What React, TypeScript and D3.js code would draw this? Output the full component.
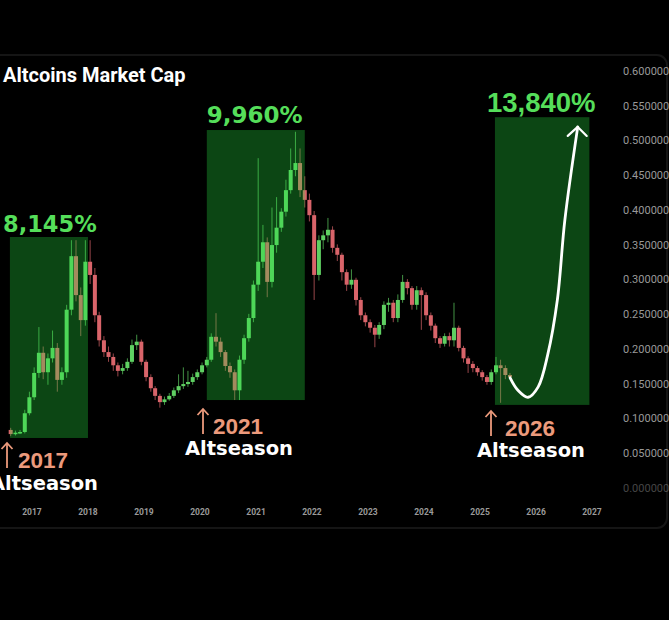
import * as d3 from "d3";
import { useEffect } from "react";

const W = 669;
const H = 620;

const BG = "#000000";
const UP = "#5fd062";
const DOWN = "#d9646a";
const BOX = "rgb(40,233,67)";
const PCT = "#55de5a";
const YEAR_TXT = "#ec9a7c";

// monthly candles, first one is Jul 2016
const FIRST_MONTH = new Date(2016, 6, 15);
const firstOpen = 0.085;
const closes = [
  0.079, 0.081, 0.082, 0.109, 0.132, 0.167, 0.196, 0.168, 0.188, 0.203,
  0.157, 0.168, 0.258, 0.335, 0.279, 0.243, 0.327, 0.308, 0.25, 0.214,
  0.197, 0.19, 0.178, 0.17, 0.174, 0.183, 0.207, 0.212, 0.183, 0.161,
  0.145, 0.134, 0.125, 0.129, 0.134, 0.142, 0.148, 0.151, 0.154, 0.161,
  0.168, 0.178, 0.186, 0.219, 0.212, 0.197, 0.177, 0.168, 0.142, 0.186,
  0.217, 0.246, 0.294, 0.327, 0.355, 0.298, 0.351, 0.376, 0.399, 0.43,
  0.459, 0.469, 0.43, 0.416, 0.394, 0.308, 0.358, 0.365, 0.373, 0.347,
  0.337, 0.312, 0.294, 0.301, 0.272, 0.25, 0.24, 0.232, 0.222, 0.236,
  0.265, 0.268, 0.246, 0.272, 0.298, 0.289, 0.265, 0.286, 0.279, 0.25,
  0.235, 0.217, 0.209, 0.22, 0.214, 0.232, 0.203, 0.188, 0.18, 0.174,
  0.168, 0.161, 0.154, 0.168, 0.178, 0.174, 0.164, 0.161,
];
const highs = [
  0.088, 0.084, 0.085, 0.114, 0.14, 0.175, 0.233, 0.205, 0.195, 0.228,
  0.21, 0.175, 0.265, 0.358, 0.358, 0.29, 0.358, 0.358, 0.318, 0.255,
  0.22, 0.205, 0.195, 0.182, 0.18, 0.188, 0.215, 0.222, 0.215, 0.186,
  0.165, 0.148, 0.137, 0.133, 0.138, 0.146, 0.165, 0.175, 0.17, 0.166,
  0.172, 0.182, 0.19, 0.224, 0.253, 0.218, 0.2, 0.182, 0.172, 0.192,
  0.222, 0.252, 0.3, 0.476, 0.38, 0.362, 0.405, 0.42, 0.404, 0.445,
  0.49, 0.514, 0.49, 0.45, 0.425, 0.4, 0.365, 0.372, 0.39, 0.378,
  0.352, 0.34, 0.316, 0.316, 0.304, 0.276, 0.254, 0.244, 0.236, 0.24,
  0.27, 0.275, 0.272, 0.28, 0.308, 0.302, 0.292, 0.292, 0.29, 0.283,
  0.254, 0.238, 0.22, 0.224, 0.225, 0.268, 0.235, 0.206, 0.191, 0.184,
  0.177, 0.171, 0.164, 0.172, 0.19, 0.186, 0.178, 0.167,
];
const lows = [
  0.076, 0.077, 0.079, 0.08, 0.106, 0.128, 0.16, 0.158, 0.15, 0.182,
  0.14, 0.15, 0.16, 0.25, 0.27, 0.22, 0.235, 0.295, 0.24, 0.205,
  0.19, 0.183, 0.17, 0.162, 0.165, 0.17, 0.18, 0.2, 0.178, 0.155,
  0.14, 0.128, 0.117, 0.121, 0.127, 0.131, 0.138, 0.144, 0.147, 0.15,
  0.157, 0.165, 0.175, 0.183, 0.205, 0.19, 0.17, 0.16, 0.128, 0.128,
  0.18, 0.212, 0.24, 0.285, 0.318, 0.276, 0.29, 0.34, 0.37, 0.392,
  0.425, 0.45, 0.42, 0.405, 0.385, 0.272, 0.3, 0.345, 0.355, 0.34,
  0.328, 0.3, 0.285, 0.288, 0.264, 0.243, 0.234, 0.225, 0.204, 0.216,
  0.23, 0.255, 0.24, 0.24, 0.268, 0.28, 0.258, 0.258, 0.229, 0.243,
  0.228, 0.21, 0.203, 0.205, 0.205, 0.205, 0.198, 0.182, 0.167, 0.168,
  0.163, 0.156, 0.15, 0.15, 0.165, 0.124, 0.158, 0.158,
];

// highlighted altseason windows
const seasons = [
  { from: new Date(2016, 7, 10), to: new Date(2018, 0, 1), top: 0.3626, bottom: 0.0734, pct: "8,145%", year: "2017" },
  { from: new Date(2020, 1, 15), to: new Date(2021, 10, 15), top: 0.5165, bottom: 0.128, pct: "9,960%", year: "2021" },
  { from: new Date(2025, 3, 8), to: new Date(2026, 11, 15), top: 0.535, bottom: 0.121, pct: "13,840%", year: "2026" },
];

// hand drawn projection
const projDates = [
  new Date(2025, 6, 16), new Date(2025, 8, 5), new Date(2025, 10, 10),
  new Date(2026, 0, 15), new Date(2026, 2, 18), new Date(2026, 4, 20),
  new Date(2026, 6, 8), new Date(2026, 8, 30),
];
const projValues = [0.16, 0.142, 0.132, 0.147, 0.193, 0.272, 0.387, 0.521];

const priceTicks = [0, 0.05, 0.1, 0.15, 0.2, 0.25, 0.3, 0.35, 0.4, 0.45, 0.5, 0.55, 0.6];
const years = [2017, 2018, 2019, 2020, 2021, 2022, 2023, 2024, 2025, 2026, 2027];

const FONT = "Roboto, 'Liberation Sans', Arial, sans-serif";
const WIDE = "'DejaVu Sans', sans-serif";
const ARIAL = "'Liberation Sans', Arial, sans-serif";

const App = () => {
  useEffect(() => {
    document.body.style.margin = "0";
    document.body.style.background = BG;
  }, []);

  const x = d3
    .scaleTime()
    .domain([new Date(2017, 0, 1), new Date(2027, 0, 1)])
    .range([32, 592]);
  const y = d3.scaleLinear().domain([0, 0.6]).range([489, 72]);

  const months = d3.timeMonth.range(FIRST_MONTH, d3.timeMonth.offset(FIRST_MONTH, closes.length));
  const candles = closes.map((c, i) => ({
    date: d3.timeDay.offset(months[i], 14),
    open: i ? closes[i - 1] : firstOpen,
    close: c,
    high: highs[i],
    low: lows[i],
  }));
  const cw = 4;

  const line = d3
    .line<number>()
    .x((d, i) => x(projDates[i]))
    .y((d) => y(d))
    .curve(d3.curveCatmullRom.alpha(0.5));
  const tipX = x(projDates[projDates.length - 1]);
  const tipY = y(projValues[projValues.length - 1]);

  const labelPos = [
    { arrowX: 7, yearX: 18, by: 468, altX: 98, altY: 490, anchor: "end" },
    { arrowX: 203, yearX: 213, by: 434, altX: 239, altY: 455, anchor: "middle" },
    { arrowX: 491, yearX: 505, by: 436, altX: 531, altY: 457, anchor: "middle" },
  ];

  return (
    <div style={{ position: "fixed", left: 0, top: 0, width: W, height: H, background: BG }}>
      <svg width={W} height={H} style={{ display: "block" }}>
        <rect width={W} height={H} fill={BG} />
        <rect x={-12} y={55} width={W + 10} height={473} rx={10} fill="none" stroke="#151515" strokeWidth={2} />

        {/* candles */}
        <g>
          {candles.map((d, i) => {
            const col = d.close >= d.open ? UP : DOWN;
            const top = y(Math.max(d.open, d.close));
            const bot = y(Math.min(d.open, d.close));
            return (
              <g key={i}>
                <line x1={x(d.date)} x2={x(d.date)} y1={y(d.high)} y2={y(d.low)} stroke={col} strokeOpacity={0.7} strokeWidth={1} />
                <rect x={x(d.date) - cw / 2} y={top} width={cw} height={Math.max(1.5, bot - top)} fill={col} />
              </g>
            );
          })}
        </g>

        {/* altseason boxes */}
        {seasons.map((s, i) => (
          <rect
            key={i}
            x={x(s.from)}
            y={y(s.top)}
            width={x(s.to) - x(s.from)}
            height={y(s.bottom) - y(s.top)}
            fill={BOX}
            fillOpacity={0.3}
          />
        ))}

        {/* projection */}
        <path d={line(projValues) || ""} fill="none" stroke="#ffffff" strokeWidth={2.8} strokeLinecap="round" />
        <path
          d={`M${tipX - 10},${tipY + 9} L${tipX},${tipY} L${tipX + 9},${tipY + 9}`}
          fill="none"
          stroke="#ffffff"
          strokeWidth={2.2}
          strokeLinecap="round"
          strokeLinejoin="round"
        />

        {/* right axis */}
        <g fontFamily={FONT} fontSize={11} fill="#999999">
          {priceTicks.map((t) => (
            <text key={t} x={623} y={y(t)} dominantBaseline="middle" opacity={t === 0 ? 0.45 : 1}>
              {t.toFixed(6)}
            </text>
          ))}
        </g>

        {/* bottom axis */}
        <g fontFamily={FONT} fontSize={8.5} fontWeight="bold" fill="#9a9a9a" textAnchor="middle">
          {years.map((yr) => (
            <text key={yr} x={x(new Date(yr, 0, 1))} y={515}>
              {yr}
            </text>
          ))}
        </g>

        {/* title */}
        <text x={3} y={82} fontFamily={FONT} fontWeight="bold" fontSize={20} fill="#ffffff">
          Altcoins Market Cap
        </text>

        {/* gains */}
        <g fontWeight="bold" fill={PCT}>
          <text x={3} y={232} fontFamily={WIDE} fontSize={22.5}>{seasons[0].pct}</text>
          <text x={x(seasons[1].from)} y={123} fontFamily={WIDE} fontSize={23}>{seasons[1].pct}</text>
          <text x={487} y={112} fontFamily={ARIAL} fontSize={27.5}>{seasons[2].pct}</text>
        </g>

        {/* altseason labels */}
        {seasons.map((s, i) => {
          const p = labelPos[i];
          return (
            <g key={i} fontWeight="bold">
              <line x1={p.arrowX} x2={p.arrowX} y1={p.by - 25} y2={p.by} stroke={YEAR_TXT} strokeWidth={1.8} />
              <path
                d={`M${p.arrowX - 5.5},${p.by - 19} L${p.arrowX},${p.by - 25} L${p.arrowX + 5.5},${p.by - 19}`}
                fill="none"
                stroke={YEAR_TXT}
                strokeWidth={1.8}
              />
              <text x={p.yearX} y={p.by} fontFamily={ARIAL} fontSize={22.5} fill={YEAR_TXT}>
                {s.year}
              </text>
              <text x={p.altX} y={p.altY} fontFamily={WIDE} fontSize={19.5} fill="#ffffff" textAnchor={p.anchor}>
                Altseason
              </text>
            </g>
          );
        })}
      </svg>
    </div>
  );
};

export default App;
